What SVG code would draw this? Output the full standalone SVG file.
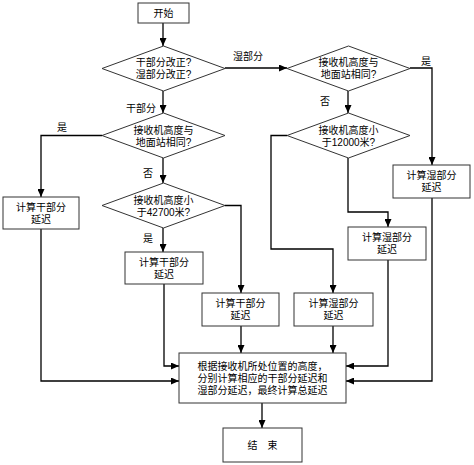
<svg xmlns="http://www.w3.org/2000/svg" width="474" height="465" viewBox="0 0 474 465">
<defs>
<marker id="ah" markerWidth="8" markerHeight="7" refX="8" refY="3.5" orient="auto" markerUnits="userSpaceOnUse">
<path d="M0,0 L8,3.5 L0,7 z" fill="#000"/>
</marker>
<style>
.n{fill:#fff;stroke:#333;stroke-width:1}
.t{font-family:"Liberation Sans","Noto Sans CJK SC",sans-serif;font-size:10px;fill:#000;text-anchor:middle;dominant-baseline:central}
.c{fill:none;stroke:#000;stroke-width:1.3;marker-end:url(#ah)}
</style>
</defs>
<rect width="474" height="465" fill="#fff"/>
<g id="connectors">
<path class="c" d="M163,23 V46"/>
<path class="c" d="M225,68 H287"/>
<path class="c" d="M163,91 V113"/>
<path class="c" d="M410,68 H432 V165"/>
<path class="c" d="M348,91 V113"/>
<path class="c" d="M102,135.5 H41 V197"/>
<path class="c" d="M163,158 V183"/>
<path class="c" d="M287,135.5 H271 V249 H333 V293"/>
<path class="c" d="M348,158 V212 H388 V227"/>
<path class="c" d="M163,228 V252"/>
<path class="c" d="M225,205.5 H241 V293"/>
<path class="c" d="M41,229 V381 H179"/>
<path class="c" d="M164,284 V366 H179"/>
<path class="c" d="M241,326 V353"/>
<path class="c" d="M333,326 V353"/>
<path class="c" d="M388,260 V366 H346"/>
<path class="c" d="M432,198 V381 H346"/>
<path class="c" d="M262,403 V428"/>
<text class="t" x="248" y="56">湿部分</text>
<text class="t" x="426" y="61">是</text>
<text class="t" x="141" y="108">干部分</text>
<text class="t" x="325" y="101">否</text>
<text class="t" x="62" y="127">是</text>
<text class="t" x="148" y="173">否</text>
<text class="t" x="148" y="238">是</text>
</g>
<g id="start"><rect class="n" x="138" y="3" width="51" height="20"/><text class="t" x="163.5" y="13">开始</text></g>
<g id="d1"><polygon class="n" points="163.5,46 225,68.5 163.5,91 102,68.5"/><text class="t" x="163.5" y="62">干部分改正?</text><text class="t" x="163.5" y="74">湿部分改正?</text></g>
<g id="d2"><polygon class="n" points="348.5,46 410,68.5 348.5,91 287,68.5"/><text class="t" x="348.5" y="62">接收机高度与</text><text class="t" x="348.5" y="74">地面站相同?</text></g>
<g id="d3"><polygon class="n" points="348.5,113 410,135.5 348.5,158 287,135.5"/><text class="t" x="348.5" y="130">接收机高度小</text><text class="t" x="348.5" y="142">于12000米?</text></g>
<g id="d4"><polygon class="n" points="163.5,113 225,135.5 163.5,158 102,135.5"/><text class="t" x="163.5" y="130">接收机高度与</text><text class="t" x="163.5" y="142">地面站相同?</text></g>
<g id="d5"><polygon class="n" points="163.5,183 225,205.5 163.5,228 102,205.5"/><text class="t" x="163.5" y="200">接收机高度小</text><text class="t" x="163.5" y="212">于42700米?</text></g>
<g id="b_wet_top"><rect class="n" x="393" y="165" width="77" height="33"/><text class="t" x="431.5" y="175.5">计算湿部分</text><text class="t" x="431.5" y="187.5">延迟</text></g>
<g id="b_wet_mid"><rect class="n" x="348" y="227" width="78" height="33"/><text class="t" x="387" y="237.5">计算湿部分</text><text class="t" x="387" y="249.5">延迟</text></g>
<g id="b_wet_low"><rect class="n" x="294" y="293" width="79" height="33"/><text class="t" x="333.5" y="303.5">计算湿部分</text><text class="t" x="333.5" y="315.5">延迟</text></g>
<g id="b_dry_left"><rect class="n" x="3" y="197" width="76" height="32"/><text class="t" x="41" y="207">计算干部分</text><text class="t" x="41" y="219">延迟</text></g>
<g id="b_dry_mid"><rect class="n" x="125" y="252" width="78" height="32"/><text class="t" x="164" y="262">计算干部分</text><text class="t" x="164" y="274">延迟</text></g>
<g id="b_dry_low"><rect class="n" x="202" y="293" width="77" height="33"/><text class="t" x="240.5" y="303.5">计算干部分</text><text class="t" x="240.5" y="315.5">延迟</text></g>
<g id="final"><rect class="n" x="179" y="353" width="167" height="50"/><text class="t" x="262.5" y="366.5">根据接收机所处位置的高度，</text><text class="t" x="262.5" y="378.5">分别计算相应的干部分延迟和</text><text class="t" x="262.5" y="390.5">湿部分延迟，最终计算总延迟</text></g>
<g id="end"><rect class="n" x="223" y="428" width="79" height="34"/><text class="t" x="262.5" y="445">结　束</text></g>
</svg>
